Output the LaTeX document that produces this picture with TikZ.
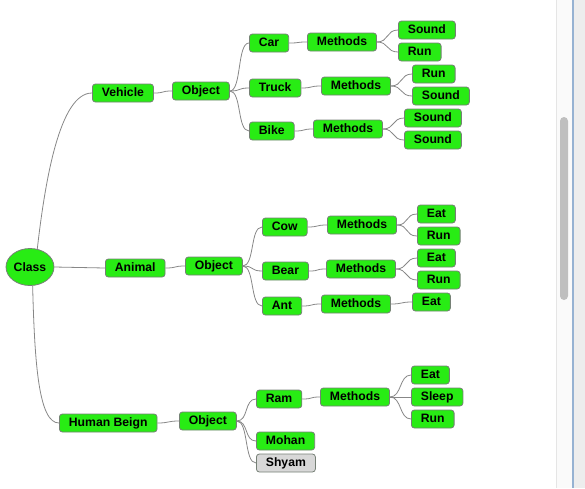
\documentclass[tikz,border=0pt]{standalone}
\usepackage{fontspec}
\setmainfont{Liberation Sans}
\usetikzlibrary{shapes.geometric}
\definecolor{leafgreen}{RGB}{40,236,20}
\definecolor{boxedge}{RGB}{118,128,118}
\definecolor{wiregray}{RGB}{135,135,135}
\definecolor{idlegray}{RGB}{216,216,216}
\definecolor{paneblue}{RGB}{150,178,210}
\tikzset{
  topic/.style={draw=boxedge, fill=leafgreen, rounded corners=3pt, line width=0.8pt, anchor=west,
    font=\bfseries\fontsize{12.2}{14}\selectfont, inner xsep=9.5pt, inner ysep=3.25pt,
    text height=9pt, text depth=2.5pt},
  root/.style={ellipse, draw=boxedge, fill=leafgreen, line width=0.8pt, minimum width=48pt,
    minimum height=37pt, inner sep=0pt, font=\bfseries\fontsize{12.2}{14}\selectfont},
  wire/.style={draw=wiregray, line width=0.8pt},
  branch/.style={to path={.. controls ([xshift=12pt]\tikztostart) and ([xshift=-12pt]\tikztotarget) .. (\tikztotarget)}}
}

\begin{document}
\begin{tikzpicture}[x=1pt, y=-1pt]
		\useasboundingbox (0, 0) rectangle (585, 488);
		
		%%%%% SCROLLBAR %%%%%
		\fill[black!2] (556, 0) rectangle (573, 488);
		\draw[black!10, line width=0.8pt] (556, 0) -- (556, 488);
		\fill[black!25, rounded corners=4pt] (560, 117) rectangle (568, 300);
		\fill[black!7] (574, 0) rectangle (585, 488);
		\draw[paneblue, line width=1.6pt] (573, 0) -- (573, 488);
		
		%%%%% ROOT %%%%%
		\node[root] (class) at (30, 267) {Class};
		
		\node[topic] (vehicle) at (92, 93) {Vehicle};
		\node[topic] (animal) at (105, 268) {Animal};
		\node[topic] (human) at (59, 423) {Human Beign};
		
		\draw[wire] (class.68) .. controls +(8, -70) and +(-32, 0) .. (vehicle.west);
		\draw[wire] (class.east) -- (animal.west);
		\draw[wire] (class.-82) .. controls +(2, 80) and +(-20, 0) .. (human.west);
		
		%%%%% VEHICLE %%%%%
		\node[topic] (objA) at (172, 91) {Object};
		\node[topic] (car) at (249, 43) {Car};
		\node[topic] (truck) at (249, 88) {Truck};
		\node[topic] (bike) at (249, 131) {Bike};
		\node[topic] (mcar) at (307, 42) {Methods};
		\node[topic] (mtruck) at (321, 86) {Methods};
		\node[topic] (mbike) at (313, 129) {Methods};
		\node[topic] (carsound) at (398, 30) {Sound};
		\node[topic] (carrun) at (398, 52) {Run};
		\node[topic] (truckrun) at (412, 74) {Run};
		\node[topic] (trucksound) at (412, 96) {Sound};
		\node[topic] (bikesoundA) at (404, 118) {Sound};
		\node[topic] (bikesoundB) at (404, 140) {Sound};
		
		\draw[wire] (vehicle.east) to[branch] (objA.west);
		\foreach \kid in {car, truck, bike}
			\draw[wire] (objA.east) to[branch] (\kid.west);
		\draw[wire] (car.east) to[branch] (mcar.west);
		\draw[wire] (truck.east) to[branch] (mtruck.west);
		\draw[wire] (bike.east) to[branch] (mbike.west);
		\draw[wire] (mcar.east) to[branch] (carsound.west);
		\draw[wire] (mcar.east) to[branch] (carrun.west);
		\draw[wire] (mtruck.east) to[branch] (truckrun.west);
		\draw[wire] (mtruck.east) to[branch] (trucksound.west);
		\draw[wire] (mbike.east) to[branch] (bikesoundA.west);
		\draw[wire] (mbike.east) to[branch] (bikesoundB.west);
		
		%%%%% ANIMAL %%%%%
		\node[topic] (objB) at (185, 266) {Object};
		\node[topic] (cow) at (262, 227) {Cow};
		\node[topic] (bear) at (262, 271) {Bear};
		\node[topic] (ant) at (262, 306) {Ant};
		\node[topic] (mcow) at (327, 225) {Methods};
		\node[topic] (mbear) at (326, 269) {Methods};
		\node[topic] (mant) at (321, 304) {Methods};
		\node[topic] (coweat) at (417, 214) {Eat};
		\node[topic] (cowrun) at (417, 236) {Run};
		\node[topic] (beareat) at (417, 258) {Eat};
		\node[topic] (bearrun) at (417, 280) {Run};
		\node[topic] (anteat) at (412, 302) {Eat};
		
		\draw[wire] (animal.east) to[branch] (objB.west);
		\foreach \kid in {cow, bear, ant}
			\draw[wire] (objB.east) to[branch] (\kid.west);
		\draw[wire] (cow.east) to[branch] (mcow.west);
		\draw[wire] (bear.east) to[branch] (mbear.west);
		\draw[wire] (ant.east) to[branch] (mant.west);
		\draw[wire] (mcow.east) to[branch] (coweat.west);
		\draw[wire] (mcow.east) to[branch] (cowrun.west);
		\draw[wire] (mbear.east) to[branch] (beareat.west);
		\draw[wire] (mbear.east) to[branch] (bearrun.west);
		\draw[wire] (mant.east) to[branch] (anteat.west);
		
		%%%%% HUMAN %%%%%
		\node[topic] (objC) at (179, 421) {Object};
		\node[topic] (ram) at (256, 399) {Ram};
		\node[topic] (mohan) at (256, 441) {Mohan};
		\node[topic, fill=idlegray] (shyam) at (256, 463) {Shyam};
		\node[topic] (mram) at (320, 397) {Methods};
		\node[topic] (rameat) at (411, 375) {Eat};
		\node[topic] (ramsleep) at (411, 397) {Sleep};
		\node[topic] (ramrun) at (411, 419) {Run};
		
		\draw[wire] (human.east) to[branch] (objC.west);
		\foreach \kid in {ram, mohan, shyam}
			\draw[wire] (objC.east) to[branch] (\kid.west);
		\draw[wire] (ram.east) to[branch] (mram.west);
		\foreach \kid in {rameat, ramsleep, ramrun}
			\draw[wire] (mram.east) to[branch] (\kid.west);
		
		%%%%% END %%%%%
	\end{tikzpicture}
\end{document}
